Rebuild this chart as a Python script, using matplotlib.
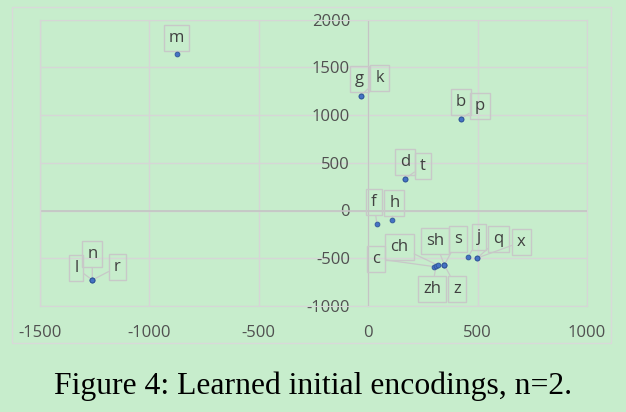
import matplotlib.pyplot as plt
from matplotlib.patches import Rectangle

# phoneme labels and their 2-d encodings
labels = ['m', 'g', 'k', 'b', 'p', 'd', 't', 'f', 'h',
          'c', 'zh', 'ch', 'sh', 's', 'z', 'j', 'q', 'x', 'l', 'n', 'r']
x_vals = [-875, -35, -35, 423, 423, 167, 167, 40, 110,
          302, 310, 317, 348, 348, 348, 457, 499, 499, -1261, -1261, -1261]
y_vals = [1640, 1200, 1200, 958, 958, 330, 330, -144, -96,
          -588, -581, -571, -571, -571, -571, -487, -497, -497, -728, -728, -728]

x_ticks = [-1500, -1000, -500, 0, 500, 1000]
y_ticks = [-1000, -500, 0, 500, 1000, 1500, 2000]

# where each callout box sits, relative to its point (pixels)
offsets = {'m': (0, 16), 'g': (-1, 17), 'k': (19, 18), 'b': (0, 17), 'p': (19, 13),
           'd': (0, 17), 't': (18, 13), 'f': (-3, 22), 'h': (2, 17),
           'c': (-58, 8), 'zh': (-4, -23), 'ch': (-38, 18), 'sh': (-9, 24),
           's': (14, 26), 'z': (13, -24), 'j': (11, 20), 'q': (21, 19),
           'x': (44, 16), 'l': (-16, 12), 'n': (0, 26), 'r': (25, 13)}

plt.rcParams['axes.unicode_minus'] = False

bg = '#C7EDCC'
grid_c = '#d6d6d6'
text_c = '#505050'
font = 'Open Sans'

fig = plt.figure(figsize=(6.26, 4.12), dpi=100, facecolor=bg)
W, H = 626, 412

# chart area border
fig.patches.append(Rectangle((12 / W, 1 - 343 / H), 599 / W, 336 / H,
                             transform=fig.transFigure, fill=False,
                             edgecolor='#d9d9d9', linewidth=1))

ax = fig.add_axes([40 / W, 1 - 306 / H, 547 / W, 286.5 / H])
ax.set_facecolor(bg)
ax.set_xlim(-1500, 1000)
ax.set_ylim(-1000, 2000)
ax.set_xticks(x_ticks)
ax.set_yticks(y_ticks)
ax.grid(True, color=grid_c, linewidth=1)
ax.set_axisbelow(True)

for side in ['top', 'right', 'bottom']:
    ax.spines[side].set_color(grid_c)
ax.spines['left'].set_position(('data', 0))
ax.spines['left'].set_color('#c4c4c4')
ax.axhline(0, color='#c4c4c4', linewidth=1.2, zorder=1)
ax.axvline(-1500, color=grid_c, linewidth=1, clip_on=False, zorder=1)

ax.tick_params(axis='both', length=0, labelsize=12, labelcolor=text_c)
ax.tick_params(axis='y', pad=13)
ax.tick_params(axis='x', pad=14)
for lab in ax.get_xticklabels() + ax.get_yticklabels():
    lab.set_fontfamily(font)

ax.scatter(x_vals, y_vals, s=12, color='#4472C4', edgecolor='#2F5597',
           linewidth=0.6, zorder=4)

for name, xv, yv in zip(labels, x_vals, y_vals):
    dx, dy = offsets[name]
    ax.annotate(name, (xv, yv), xytext=(dx, dy), textcoords='offset pixels',
                ha='center', va='center', fontsize=12, family=font, color='#404040',
                bbox=dict(boxstyle='square,pad=0.3', fc='none', ec='#c8c8c8', lw=1),
                arrowprops=dict(arrowstyle='-', color='#c8c8c8', lw=0.9,
                                shrinkA=0, shrinkB=2),
                zorder=3)

fig.text(0.5, 1 - 386 / H, 'Figure 4: Learned initial encodings, n=2.',
         ha='center', va='center', fontsize=22.8, family='Liberation Serif', color='black')

fig.savefig('out.png', dpi=100, facecolor=bg)
